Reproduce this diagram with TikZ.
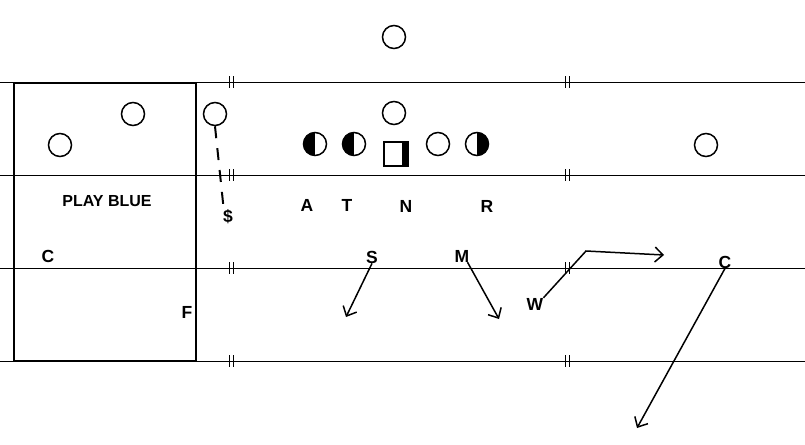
\documentclass[tikz,border=0pt]{standalone}
\usepackage{fontspec}
\setmainfont{Liberation Sans}
\usepackage{tikz}
\usetikzlibrary{arrows.meta}
\tikzset{
  linea/.style = {line width=1pt},
  giocatore/.style = {draw, circle, line width=1.5pt, minimum size=23pt, inner sep=0pt},
  mezzosx/.style = {giocatore, path picture={\fill (path picture bounding box.south west) rectangle (path picture bounding box.north);}},
  mezzodx/.style = {giocatore, path picture={\fill (path picture bounding box.south east) rectangle (path picture bounding box.north);}},
  centro/.style = {draw, rectangle, line width=1.5pt, minimum size=24pt, inner sep=0pt,
    path picture={\fill ([xshift=-6pt]path picture bounding box.north east) rectangle (path picture bounding box.south east);}},
  lettera/.style = {inner sep=0pt, font=\fontsize{17.5}{17.5}\selectfont\bfseries},
  freccia/.style = {line width=1.5pt, -{Straight Barb[length=8pt,width=15pt]}}
}

\begin{document}
\begin{tikzpicture}[x=1pt, y=-1pt]
    % Parametri
    \pgfmathsetmacro{\larg}{805}
    \pgfmathsetmacro{\alt}{444}
    \useasboundingbox (0,0) rectangle (\larg,\alt);
    % Linee del campo
    \foreach \y in {82,175,268,361}{
        \draw[linea] (0,\y) -- (\larg,\y);
        \foreach \x in {229,233,565,569}
            \draw[linea] (\x,\y-6) -- (\x,\y+6);
    }
    % Riquadro
    \draw[line width=2pt] (14,83) rectangle (196,361);
    \node[font=\fontsize{16}{16}\selectfont\bfseries, inner sep=0pt] (play) at (107,201) {PLAY BLUE};
    % Attacco
    \node[giocatore] (p1) at (394,37) {};
    \node[giocatore] (p2) at (133,114) {};
    \node[giocatore] (p3) at (60,145) {};
    \node[giocatore] (q) at (215,114) {};
    \node[giocatore] (p4) at (394,113) {};
    \node[mezzosx] (p5) at (315,144) {};
    \node[mezzosx] (p6) at (354,144) {};
    \node[centro] (ctr) at (396,154) {};
    \node[giocatore] (p7) at (438,144) {};
    \node[mezzodx] (p8) at (477,144) {};
    \node[giocatore] (p9) at (706,145) {};
    % Difesa
    \node[lettera] (cl) at (48,256) {C};
    \node[lettera] (f) at (187,312) {F};
    \node[lettera] (dol) at (228,217) {\$};
    \node[lettera] (a) at (307,205) {A};
    \node[lettera] (t) at (347,205) {T};
    \node[lettera] (n) at (406,206) {N};
    \node[lettera] (r) at (487,206) {R};
    \node[lettera] (s) at (372,257) {S};
    \node[lettera] (m) at (462,256) {M};
    \node[lettera] (w) at (535,304) {W};
    \node[lettera] (cr) at (725,262) {C};
    % Percorsi
    \coordinate (qfine) at (224,212);
    \draw[line width=2pt, dash pattern=on 12pt off 10pt] (q.south) -- (qfine);
    \coordinate (sfine) at (346,317);
    \draw[freccia] (s.south) -- (sfine);
    \coordinate (mfine) at (499,319);
    \draw[freccia] ([xshift=-2pt]m.south east) -- (mfine);
    \coordinate (wgomito) at (586,251);
    \coordinate (wfine) at (664,255);
    \draw[freccia] (w.north east) -- (wgomito) -- (wfine);
    \coordinate (cfine) at (637,428);
    \draw[freccia] (cr.south) -- (cfine);
\end{tikzpicture}
\end{document}
